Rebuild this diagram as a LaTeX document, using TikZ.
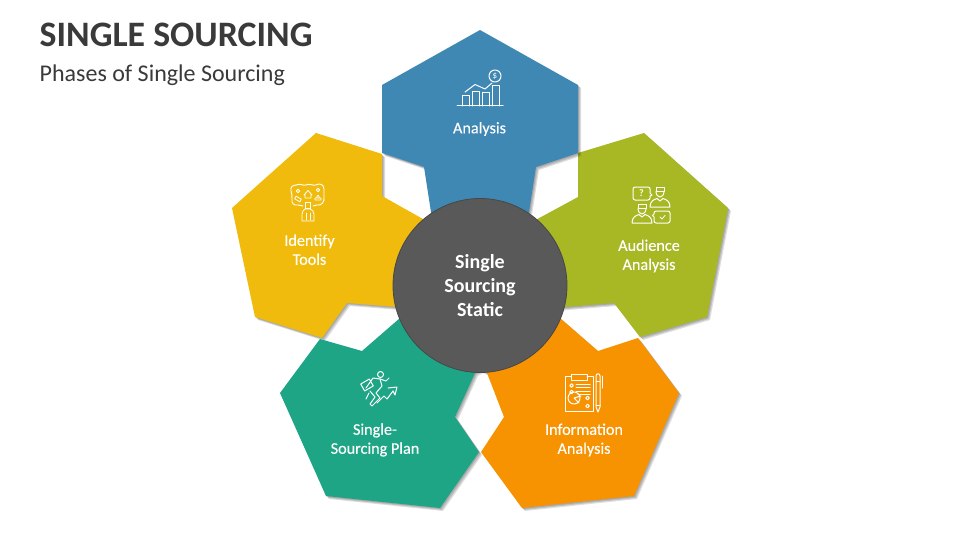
\documentclass[tikz,border=0pt]{standalone}
\usepackage{fontspec}
\setmainfont{Carlito}
\definecolor{cblue}{HTML}{3F88B4}
\definecolor{cyellow}{HTML}{F0BB0C}
\definecolor{cgreen}{HTML}{A8B825}
\definecolor{cteal}{HTML}{1EA585}
\definecolor{corange}{HTML}{F79300}
\definecolor{ccircle}{HTML}{595959}
\definecolor{ctitle}{HTML}{3A3A3A}
\def\pblue{(480,30)--(578,85)--(578,153)--(536,167)--(527,225)--(433,225)--(424,167)--(382,153)--(382,85)--cycle}
\def\pyellow{(316,133)--(382,154)--(382,196)--(430,223)--(430,310)--(397,307)--(347,303)--(322,338)--(255,317)--(232,208)--cycle}
\def\pgreen{(644,133)--(728,208)--(707,317)--(640,337)--(614,303)--(565,307)--(530,310)--(530,223)--(578,197)--(578,153)--cycle}
\def\pteal{(320,339)--(362,351)--(400,318)--(480,370)--(475,373)--(455,417)--(479,452)--(440,508)--(326,496)--(280,393)--cycle}
\def\porange{(638,338)--(679,393)--(634,496)--(522,508)--(481,452)--(504,417)--(487,373)--(480,370)--(560,318)--(598,351)--cycle}
\tikzset{
  x=1pt,y=-1pt,
  lbl/.style={text=white,font=\fontsize{16.2}{19}\selectfont\addfontfeature{FakeBold=0.25},align=center,inner sep=0pt},
  ico/.style={draw=white,line width=1pt,line join=round,line cap=round},
  shd/.style={fill=black,opacity=0.13},
}
\newcommand{\shape}[2]{%
  \fill[shd,shift={(3,3)}] #2;
  \fill[shd,shift={(2,2)}] #2;
  \fill[shd,shift={(1,1)}] #2;
  \fill[#1] #2;}
\begin{document}
\begin{tikzpicture}
\useasboundingbox (0,0) rectangle (960,540);
\fill[white] (0,0) rectangle (960,540);
\node[anchor=west,inner sep=0pt,text=ctitle,font=\fontsize{35.8}{40}\selectfont\bfseries] (title) at (39.5,35) {SINGLE SOURCING};
\node[anchor=west,inner sep=0pt,text=ctitle,font=\fontsize{24}{28}\selectfont] (subtitle) at (39.5,75) {Phases of Single Sourcing};
% shapes
\shape{cyellow}{\pyellow}
\shape{cgreen}{\pgreen}
\shape{cteal}{\pteal}
\shape{corange}{\porange}
\shape{cblue}{\pblue}
% centre
\node[circle,draw=ccircle!80!black,line width=0.8pt,fill=ccircle,minimum size=174pt,inner sep=0pt,text=white,align=center,font=\fontsize{20}{24}\selectfont\bfseries] (hub) at (480,285.5) {Single\\Sourcing\\Static};
% labels
\node[lbl] (l1) at (479.5,129) {Analysis};
\node[lbl] (l2) at (309.5,249.7) {Identify\\Tools};
\node[lbl] (l3) at (649,256) {Audience\\Analysis};
\node[lbl] (l4) at (375,440) {Single-\\Sourcing Plan};
\node[lbl] (l5) at (584,440) {Information\\Analysis};
% icon: analysis
\draw[ico] (457,106)--(503,106);
\draw[ico] (462,106)--(462,96)--(469,96)--(469,106);
\draw[ico] (472,106)--(472,92)--(479,92)--(479,106);
\draw[ico] (482,106)--(482,93)--(489,93)--(489,106);
\draw[ico] (492,106)--(492,86)--(499,86)--(499,106);
\draw[ico] (465,92)--(475,84.5)--(485,89)--(492,83);
\draw[ico] (495,76) circle (6);
\node[text=white,inner sep=0pt,font=\fontsize{9}{9}\selectfont] (dollar) at (495,76) {\$};
% icon: identify tools
\draw[ico,line width=0.9pt] (296,185) .. controls (300,183) and (303,186) .. (306,185) .. controls (309,183) and (313,186) .. (316,185) .. controls (319,183) and (324,184) .. (324,189) .. controls (325,192) and (323,194) .. (324,197) .. controls (325,202) and (321,206) .. (317,205) -- (313,206);
\draw[ico,line width=0.9pt] (303,206) -- (298,205) .. controls (294,206) and (291,203) .. (292,199) .. controls (293,196) and (291,194) .. (291,191) .. controls (290,187) and (293,185) .. (296,185);
\draw[ico,line width=0.8pt] (304,195)--(308,190.5)--(312,195) (305,194.5)--(305,198)--(311,198)--(311,194.5);
\draw[ico,line width=0.8pt] (298,191) circle (1.8);
\draw[ico,line width=0.8pt] (318,190) circle (1.8);
\draw[ico,line width=0.8pt,rotate around={-30:(298,199)}] (295,197.5) rectangle (301,200.5);
\draw[ico,line width=0.8pt] (315,198)--(321,198)--(321,200)--(315,200)--cycle (316.5,198)--(317.5,195.5)--(318.5,195.5)--(319.5,198);
\draw[ico,line width=0.8pt] (305,202) rectangle (310,208);
\draw[ico,line width=0.8pt] (302,221)--(302,214) .. controls (302,211) and (304,210) .. (305,209) -- (310,209) .. controls (312,210) and (314,211) .. (314,214) -- (314,221) -- cycle;
\draw[ico,line width=0.8pt] (306,213)--(306,220) (310,213)--(310,220);
% icon: audience
\draw[ico] (635,187) -- (648,187) .. controls (649.5,187) and (650,188) .. (650,189) -- (650,193) -- (652,195) -- (650,196) -- (650,198) .. controls (650,199) and (649,200) .. (648,200) -- (635,200) .. controls (634,200) and (633,199) .. (633,198) -- (633,189) .. controls (633,188) and (634,187) .. (635,187) -- cycle;
\node[text=white,inner sep=0pt,font=\fontsize{10}{10}\selectfont\bfseries] (qmark) at (641.5,193.5) {?};
\draw[ico] (656,187) rectangle (664,191);
\draw[ico] (656,191) .. controls (656,199) and (664,199) .. (664,191);
\draw[ico] (650,207) .. controls (650,201) and (654,199.5) .. (657,198.5) -- (660,201) -- (663,198.5) .. controls (666,199.5) and (670,201) .. (670,207) -- cycle;
\draw[ico] (638,204) rectangle (646,208);
\draw[ico] (638,208) .. controls (638,216) and (646,216) .. (646,208);
\draw[ico] (632,223) .. controls (632,217) and (636,215.5) .. (639,214.5) -- (642,217) -- (645,214.5) .. controls (648,215.5) and (652,217) .. (652,223) -- cycle;
\draw[ico] (656,211) -- (668,211) .. controls (669,211) and (670,212) .. (670,213) -- (670,221) .. controls (670,222) and (669,223) .. (668,223) -- (656,223) .. controls (655,223) and (654,222) .. (654,221) -- (654,217) -- (652.5,215.5) -- (654,214) -- (654,213) .. controls (654,212) and (655,211) .. (656,211) -- cycle;
\draw[ico,line width=0.8pt] (660,217)--(662,219)--(665,215.5);
% icon: plan
\draw[ico] (380.5,374.5) circle (3);
\draw[ico] (366,388)--(373,378)--(380,379)--(386,381)--(389,378);
\draw[ico] (380,379)--(382,386)--(376,393)--(380,398)--(372,406)--(370,404)--(375,397)--(370,391);
\draw[ico,rotate around={30:(367,385)}] (362,381) rectangle (372,389);
\draw[ico] (369,393)--(366,399);
\draw[ico] (377,403)--(384,396)--(387,399)--(393,391);
\draw[ico] (388,388)--(397,387)--(395,395)--(393,391);
% icon: information
\draw[ico] (571,376)--(565,376)--(565,411)--(593,411)--(593,376)--(587,376);
\draw[ico] (571,374)--(587,374)--(587,380)--(571,380)--cycle;
\draw[ico] (571.5,385.5) circle (1.8);
\draw[ico] (571.5,392) circle (1.8);
\draw[ico] (576,384)--(590,384) (576,387)--(590,387) (576,391)--(590,391) (578,394)--(590,394);
\draw[ico] (574,398) circle (6);
\draw[ico] (574,398)--(581,396) (574,398)--(579,403);
\draw[ico] (587.5,398) circle (1.8);
\draw[ico] (587.5,406) circle (1.8);
\draw[ico] (596,376) .. controls (596,373) and (600,373) .. (600,376) -- (600,407) -- (598,412) -- (596,407) -- cycle;
\draw[ico] (596,381)--(600,381) (596,405)--(600,405) (602,376)--(602,388);
\end{tikzpicture}
\end{document}
